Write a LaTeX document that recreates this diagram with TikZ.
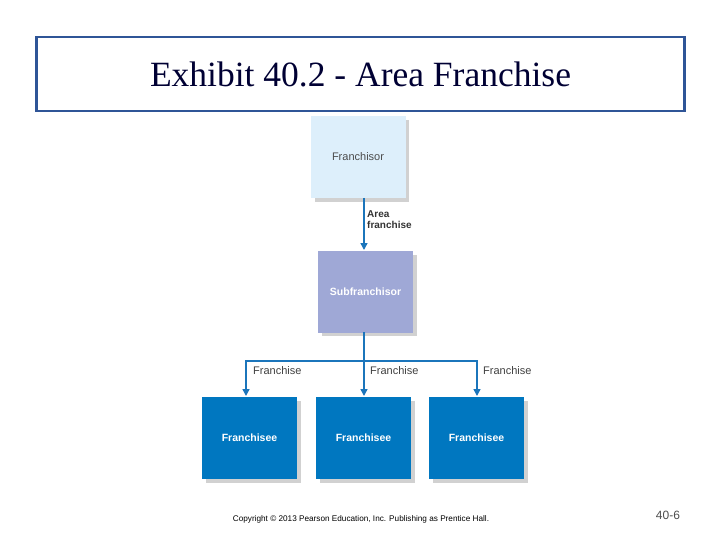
\documentclass[tikz,border=0pt]{standalone}
\usepackage{fontspec}
\setmainfont{Liberation Serif}
\newfontfamily\sansf{Liberation Sans}
\usetikzlibrary{arrows.meta}
\definecolor{tborder}{HTML}{2F5597}
\definecolor{lightb}{HTML}{DDEFFB}
\definecolor{lav}{HTML}{9FA8D6}
\definecolor{blu}{HTML}{0077C0}
\definecolor{arr}{HTML}{1B75BB}
\tikzset{
  box/.style={minimum width=95pt,minimum height=82pt,inner sep=0pt,font=\sansf\fontsize{11}{12}\selectfont},
  bbox/.style={box,text=white,font=\sansf\bfseries\fontsize{10.5}{12}\selectfont},
  shad/.style={fill=black!18},
  conn/.style={draw=arr,line width=1.5pt,-{Triangle[length=7pt,width=7pt]}},
  lbl/.style={font=\sansf\fontsize{11}{12}\selectfont,text=black!75,anchor=west,inner sep=0pt}
}
\begin{document}
\begin{tikzpicture}[x=1pt,y=-1pt]
\useasboundingbox (0,0) rectangle (720,540);
\node[draw=tborder,line width=2.5pt,minimum width=648pt,minimum height=74pt,inner sep=0pt,font=\fontsize{35.5}{40}\selectfont,text=black!80!blue] (title) at (360.5,74) {Exhibit 40.2 - Area Franchise};
% shadows
\fill[shad] (315,120) rectangle (409,202);
\fill[shad] (322,255) rectangle (417,336);
\foreach \x in {206,320,433} \fill[shad] (\x,401) rectangle (\x+95,483);
\node[box,fill=lightb,text=black!70] (fr) at (358,157) {Franchisor};
\node[bbox,fill=lav] (sub) at (365.5,291.5) {Subfranchisor};
\node[bbox,fill=blu] (f1) at (249.5,438) {Franchisee};
\node[bbox,fill=blu] (f2) at (363.5,438) {Franchisee};
\node[bbox,fill=blu] (f3) at (476.5,438) {Franchisee};
\coordinate (j) at (364,361);
\draw[conn] (364,198) -- (364,250);
\node[lbl,font=\sansf\bfseries\fontsize{10}{11}\selectfont,align=left,text=black!80] (al) at (367,220) {Area\\franchise};
\draw[draw=arr,line width=1.5pt] (364,332) -- (j);
\draw[draw=arr,line width=1.5pt] (246,361) -- (477,361);
\draw[conn] (246,360.2) -- (246,396);
\draw[conn] (j) -- (364,396);
\draw[conn] (477,360.2) -- (477,396);
\node[lbl] (l1) at (253,371) {Franchise};
\node[lbl] (l2) at (370,371) {Franchise};
\node[lbl] (l3) at (483,371) {Franchise};
\node[font=\sansf\fontsize{8.2}{9}\selectfont] (cp) at (361,519) {Copyright © 2013 Pearson Education, Inc. Publishing as Prentice Hall.};
\node[font=\sansf\fontsize{12}{13}\selectfont,text=black!70] (pg) at (668,515) {40-6};
\end{tikzpicture}
\end{document}
